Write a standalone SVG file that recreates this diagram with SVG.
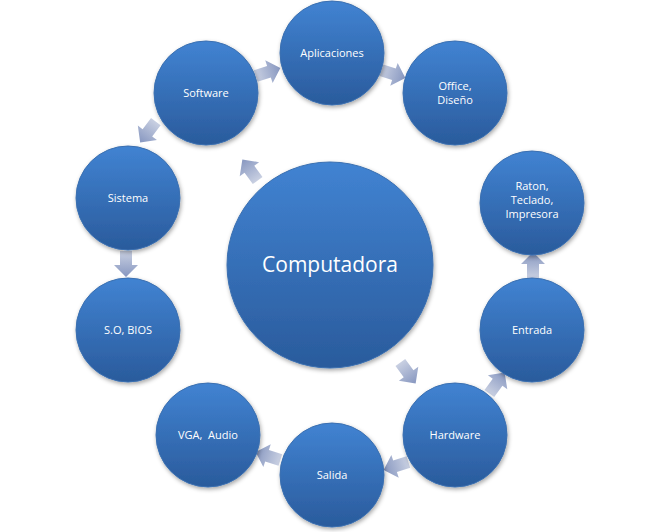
<svg xmlns="http://www.w3.org/2000/svg" width="664" height="532" viewBox="0 0 664 532">
<defs>
<linearGradient id="cg" x1="0" y1="0" x2="0" y2="1"><stop offset="0" stop-color="#4183d2"/><stop offset="1" stop-color="#2a5b9c"/></linearGradient>
<linearGradient id="ag" x1="0" y1="0" x2="1" y2="0"><stop offset="0" stop-color="#c9d0e2"/><stop offset="1" stop-color="#8797c0"/></linearGradient>
<filter id="sh" x="-20%" y="-20%" width="140%" height="140%"><feDropShadow dx="1" dy="2" stdDeviation="2" flood-color="#000" flood-opacity="0.35"/></filter>
<path id="arr" d="M-13,-6 L1,-6 L1,-12 L13,0 L1,12 L1,6 L-13,6 Z" fill="url(#ag)"/>
</defs>
<style>
circle{fill:url(#cg);stroke:#3a6fb0;stroke-width:1;filter:url(#sh)}
text{fill:#fff;font-family:"Open Sans","DejaVu Sans",sans-serif;font-size:11px;text-anchor:middle}
</style>
<rect width="664" height="532" fill="#fff"/>
<g id="connectors">
<use href="#arr" transform="translate(268,72) rotate(-18)"/>
<use href="#arr" transform="translate(393,74) rotate(18)"/>
<use href="#arr" transform="translate(148,132) rotate(127)"/>
<use href="#arr" transform="translate(126,264) rotate(90)"/>
<use href="#arr" transform="translate(250,170) rotate(-126)"/>
<use href="#arr" transform="translate(408,373) rotate(54)"/>
<use href="#arr" transform="translate(497,383) rotate(-54)"/>
<use href="#arr" transform="translate(533,265) rotate(-90)"/>
<use href="#arr" transform="translate(396,466) rotate(162)"/>
<use href="#arr" transform="translate(268,456) rotate(198)"/>
</g>
<g id="computadora"><circle cx="330" cy="265" r="103"/><text x="330" y="272" style="font-size:21px">Computadora</text></g>
<g id="software"><circle cx="206" cy="93" r="52"/><text x="206" y="97">Software</text></g>
<g id="aplicaciones"><circle cx="332" cy="53" r="52"/><text x="332" y="57">Aplicaciones</text></g>
<g id="office"><circle cx="455" cy="93" r="52"/><text x="455" y="90">Office,</text><text x="455" y="104">Diseño</text></g>
<g id="raton"><circle cx="532" cy="203" r="52"/><text x="532" y="190">Raton,</text><text x="532" y="204">Teclado,</text><text x="532" y="218">Impresora</text></g>
<g id="entrada"><circle cx="532" cy="330" r="52"/><text x="532" y="334">Entrada</text></g>
<g id="hardware"><circle cx="455" cy="435" r="52"/><text x="455" y="439">Hardware</text></g>
<g id="salida"><circle cx="332" cy="475" r="52"/><text x="332" y="479">Salida</text></g>
<g id="vga"><circle cx="208" cy="435" r="52"/><text x="208" y="439" xml:space="preserve">VGA,  Audio</text></g>
<g id="so"><circle cx="128" cy="330" r="52"/><text x="128" y="334">S.O, BIOS</text></g>
<g id="sistema"><circle cx="128" cy="198" r="52"/><text x="128" y="202">Sistema</text></g>
</svg>
